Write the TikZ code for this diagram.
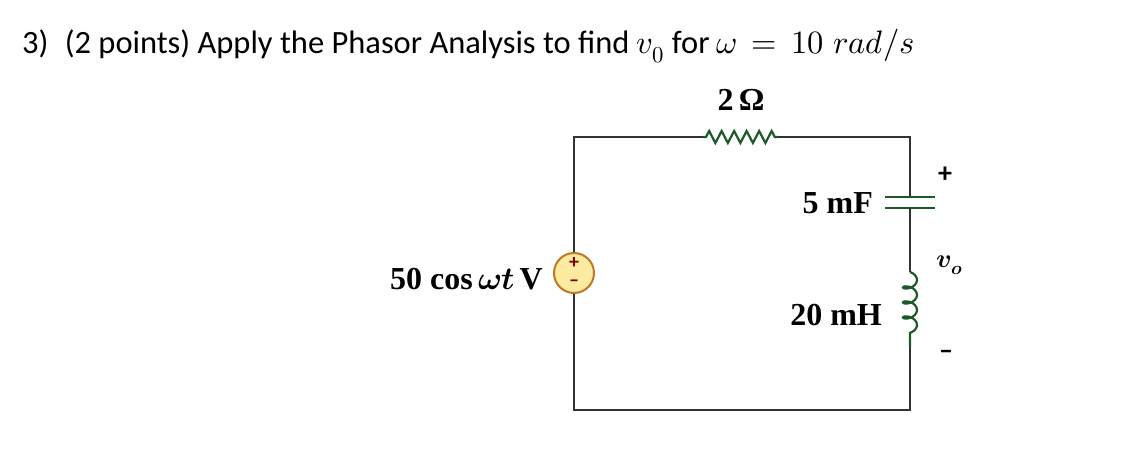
\documentclass[tikz,border=0pt]{standalone}
\usepackage{amsmath}
\usepackage{unicode-math}
\setmainfont{Carlito}
\newfontfamily\tms{Liberation Serif}
\usetikzlibrary{decorations.pathmorphing}
\definecolor{grn}{RGB}{30,90,40}
\definecolor{srcfill}{RGB}{250,235,160}
\definecolor{srcline}{RGB}{190,120,40}
\begin{document}
\begin{tikzpicture}[x=1pt,y=-1pt,
  wire/.style={line width=2.4pt,color=black!80},
  comp/.style={line width=2.2pt,color=grn},
  lbl/.style={font=\tms\fontsize{32}{34}\selectfont,inner sep=0pt}]
\useasboundingbox (0,0) rectangle (1134,462);
\node[anchor=base west,inner sep=0pt,font=\fontsize{32.5}{36}\selectfont] (title) at (22,54)
 {3)\enspace (2 points) Apply the Phasor Analysis to find $v_0$ for $\omega\,=\,10\;rad/s$};
\coordinate (tl) at (574,137); \coordinate (tr) at (910,137);
\coordinate (bl) at (574,410); \coordinate (br) at (910,410);
\coordinate (ra) at (703,137); \coordinate (rb) at (778,137);
\coordinate (ca) at (910,197); \coordinate (cb) at (910,208);
\coordinate (la) at (910,272); \coordinate (lb) at (910,347);
\node[circle,draw=srcline,fill=srcfill,line width=2pt,minimum size=40pt,inner sep=0pt] (src) at (574,273) {};
\node[font=\bfseries\fontsize{20}{20}\selectfont,text=red!50!black] at (574,263) {+};
\node[font=\bfseries\fontsize{20}{20}\selectfont,text=red!50!black] at (574,283) {--};
\draw[wire] (src.north) -- (tl) -- (ra);
\draw[comp,decorate,decoration={zigzag,segment length=12.5pt,amplitude=6pt,pre length=3pt,post length=3pt}] (ra) -- (rb);
\draw[wire] (rb) -- (tr) -- (ca);
\draw[comp,line width=2.6pt] (885,197) -- (935,197) (885,208) -- (935,208);
\draw[wire] (cb) -- (la);
\draw[comp,decorate,decoration={coil,aspect=0.6,segment length=15pt,amplitude=7pt}] (la) -- (lb);
\draw[wire] (lb) -- (br) -- (bl) -- (src.south);
\node[lbl] (rl) at (741,100) {\textbf{2\,Ω}};
\node[lbl,anchor=east] (cl) at (873,203) {\textbf{5 mF}};
\node[lbl,anchor=east] (ll) at (882,315) {\textbf{20 mH}};
\node[lbl,anchor=east] (sl) at (543,279) {\textbf{50 cos}\,$\symbfit{\omega t}$\,\textbf{V}};
\node[font=\bfseries\fontsize{28}{28}\selectfont] (p) at (945,175) {+};
\node[font=\bfseries\fontsize{28}{28}\selectfont] (m) at (946,355) {--};
\node[font=\fontsize{26}{26}\selectfont] (vo) at (950,265) {$\symbfit{v_o}$};
\end{tikzpicture}
\end{document}
